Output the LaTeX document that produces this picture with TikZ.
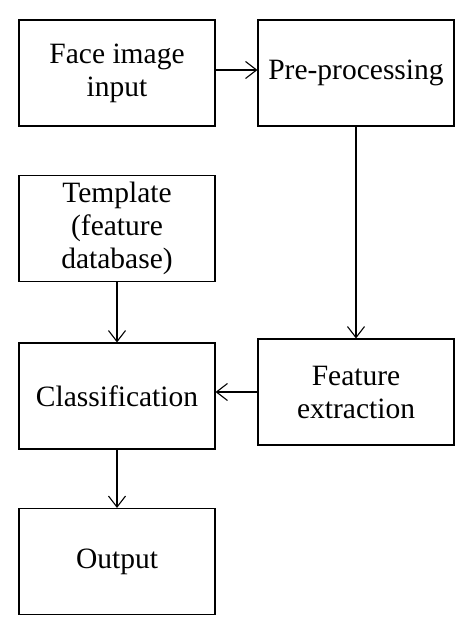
\documentclass[tikz,border=0pt]{standalone}
\usepackage{fontspec}
\setmainfont{Liberation Serif}
\usetikzlibrary{arrows.meta}
\tikzset{
	box/.style={draw, line width=1.1pt, minimum width=196pt, minimum height=106pt, inner sep=0pt, align=center, font=\fontsize{29.5}{33}\selectfont},
	arrow/.style={line width=1.1pt, -{Straight Barb[length=11pt,width=17pt,line width=1.1pt]}}
}
\begin{document}
\begin{tikzpicture}[x=1pt,y=1pt]
	\useasboundingbox (0,0) rectangle (474,635);
	%Text coordinate
	\coordinate (facepos) at (117,562) ;
	\coordinate (prepos) at (356,562) ;
	\coordinate (templatepos) at (117,406.5) ;
	\coordinate (classpos) at (117,239) ;
	\coordinate (featurepos) at (356,243) ;
	\coordinate (outputpos) at (117,73.5) ;

	%Boxes
	\node[box] (face) at (facepos) {Face image\\input};
	\node[box] (pre) at (prepos) {Pre-processing};
	\node[box] (template) at (templatepos) {Template\\(feature\\database)};
	\node[box] (class) at (classpos) {Classification};
	\node[box] (feature) at (featurepos) {Feature\\extraction};
	\node[box] (output) at (outputpos) {Output};

	%Lines
	\draw[arrow] ([yshift=3pt]face.east)--([yshift=3pt]pre.west);%face to pre
	\draw[arrow] (pre.south)--(feature.north);%pre to feature
	\draw[arrow] (template.south)--(class.north);%template to class
	\draw[arrow] (feature.west)--(class.east |- feature.west);%feature to class
	\draw[arrow] (class.south)--(output.north);%class to output
\end{tikzpicture}
\end{document}
